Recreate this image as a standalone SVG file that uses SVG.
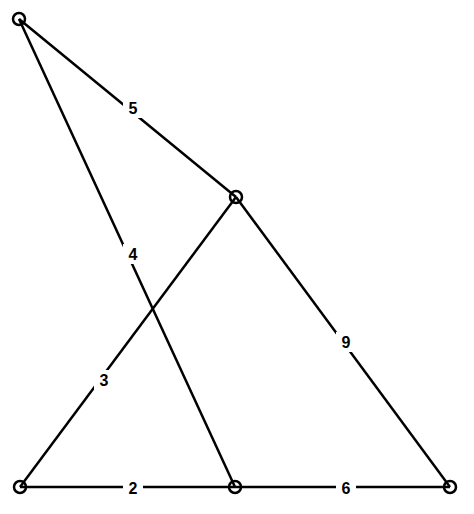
<svg xmlns="http://www.w3.org/2000/svg" width="474" height="514" viewBox="0 0 474 514">
<style>
.e{stroke:#000;stroke-width:2.5;fill:none}
.n{stroke:#000;stroke-width:2.5;fill:none}
.bg{fill:#fff}
.t{font-family:"Liberation Sans",Arial,sans-serif;font-weight:bold;font-size:16px;fill:#000;text-anchor:middle;dominant-baseline:central}
</style>
<rect width="474" height="514" fill="#fff"/>
<g id="connectors">
<line class="e" x1="19" y1="19" x2="236" y2="197"/>
<line class="e" x1="19" y1="19" x2="235" y2="487"/>
<line class="e" x1="236" y1="197" x2="20" y2="487"/>
<line class="e" x1="236" y1="197" x2="450" y2="487"/>
<line class="e" x1="20" y1="487" x2="235" y2="487"/>
<line class="e" x1="235" y1="487" x2="450" y2="487"/>
<rect class="bg" x="123" y="98" width="20" height="20"/>
<text class="t" x="133" y="108">5</text>
<rect class="bg" x="123" y="244" width="20" height="20"/>
<text class="t" x="133" y="254">4</text>
<rect class="bg" x="94" y="370" width="20" height="20"/>
<text class="t" x="104" y="380">3</text>
<rect class="bg" x="336" y="332" width="20" height="20"/>
<text class="t" x="346" y="342">9</text>
<rect class="bg" x="123" y="479" width="20" height="18"/>
<text class="t" x="133" y="488">2</text>
<rect class="bg" x="336" y="479" width="20" height="18"/>
<text class="t" x="346" y="488">6</text>
</g>
<g id="nA"><circle class="n" cx="19" cy="19" r="6"/></g>
<g id="nB"><circle class="n" cx="236" cy="197" r="6"/></g>
<g id="nC"><circle class="n" cx="20" cy="487" r="6"/></g>
<g id="nD"><circle class="n" cx="235" cy="487" r="6"/></g>
<g id="nE"><circle class="n" cx="450" cy="487" r="6"/></g>
</svg>
